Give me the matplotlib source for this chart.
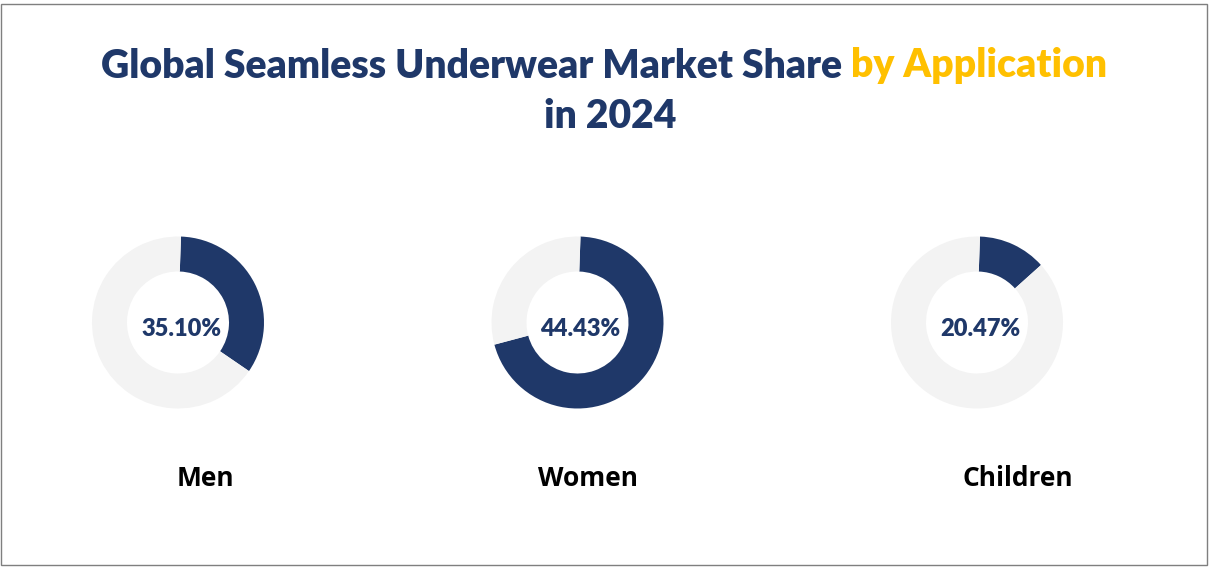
import matplotlib
matplotlib.use("Agg")
import matplotlib.pyplot as plt
from matplotlib.patches import Rectangle

# data
categories = ["Men", "Women", "Children"]
share_labels = ["35.10%", "44.43%", "20.47%"]
# dark arc size as drawn in the picture (percent of the ring)
arc_fill = [34.0, 70.3, 12.8]

title_main = "Global Seamless Underwear Market Share "
title_accent = "by Application"
title_line2 = "in 2024"

NAVY = "#1F3869"
GOLD = "#FFC000"
RING = "#F3F3F3"

W, H = 1211, 583
fig = plt.figure(figsize=(W / 100, H / 100), dpi=100)
ax = fig.add_axes([0, 0, 1, 1])

# outer frame
fig.patches.append(Rectangle((0.5 / W, (H - 565) / H), 1206 / W, 561 / H,
                             transform=fig.transFigure, fill=False,
                             edgecolor="#7F7F7F", linewidth=1.0))

centers_x = [178, 577.5, 977]
center_y = H - 322.5
label_x = [205, 588, 1018]

for i, cat in enumerate(categories):
    ax.pie([arc_fill[i], 100 - arc_fill[i]], colors=[NAVY, RING],
           startangle=88, counterclock=False, radius=86,
           center=(centers_x[i], center_y),
           wedgeprops=dict(width=35, linewidth=0))
    ax.text(centers_x[i] + 3, center_y - 6, share_labels[i], ha="center", va="center",
            fontsize=17, fontweight="heavy", color=NAVY, family="Lato")
    ax.text(label_x[i], H - 478, cat, ha="center", va="center",
            fontsize=19, fontweight="bold", color="black", family="Open Sans")

ax.set_xlim(0, W)
ax.set_ylim(0, H)
ax.set_aspect("equal")
ax.set_axis_off()

# two-colour title line
fig.canvas.draw()
r = fig.canvas.get_renderer()
tsize = 28.2
t1 = fig.text(0, 0, title_main, fontsize=tsize, fontweight="heavy", color=NAVY,
              family="Lato", va="center")
t2 = fig.text(0, 0, title_accent, fontsize=tsize, fontweight="heavy", color=GOLD,
              family="Lato", va="center")
w1 = t1.get_window_extent(r).width
w2 = t2.get_window_extent(r).width
x0 = 604 - (w1 + w2) / 2
y1 = (H - 66) / H
t1.set_position((x0 / W, y1))
t2.set_position(((x0 + w1) / W, y1))
fig.text(610 / W, (H - 117) / H, title_line2, fontsize=tsize, fontweight="heavy",
         color=NAVY, family="Lato", ha="center", va="center")

fig.savefig("out.png", dpi=100)
